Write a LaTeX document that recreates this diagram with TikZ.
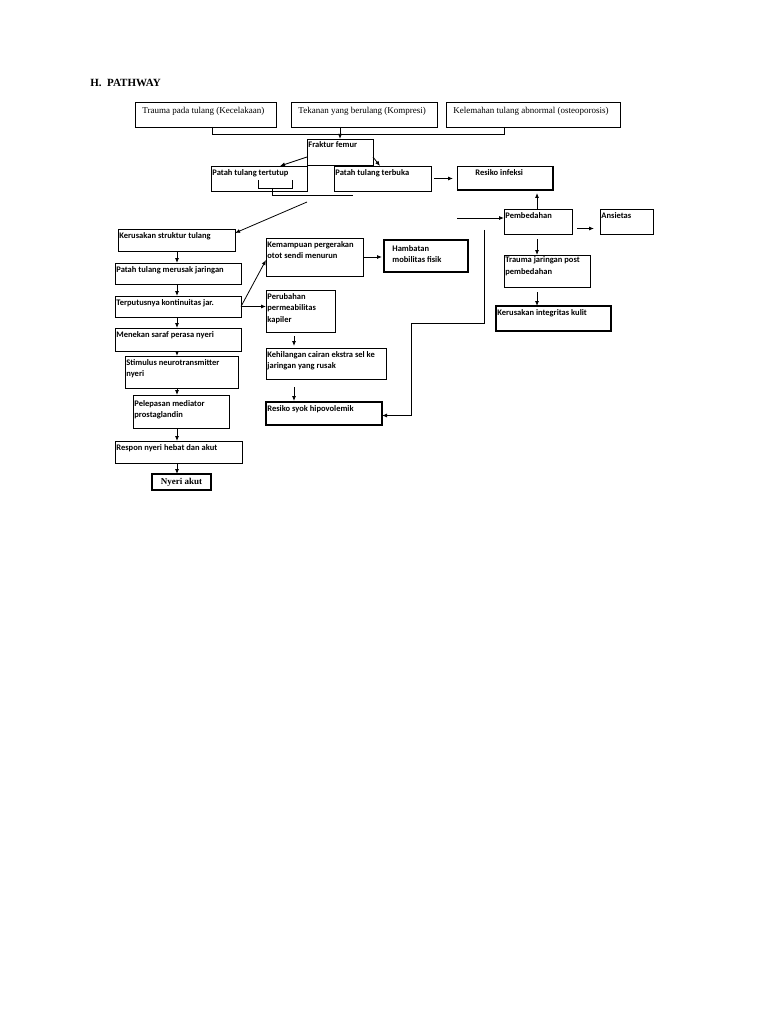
\documentclass[tikz,border=0pt]{standalone}
\usepackage{fontspec}
\setmainfont{Liberation Serif}
\newfontfamily\calibri{Carlito}
\usetikzlibrary{arrows.meta,calc}

\begin{document}
\begin{tikzpicture}[>={Latex[length=5pt,width=4pt]}, x=1pt, y=-1pt, line width=0.8pt,
  box/.style={draw, anchor=north west, inner sep=0pt, outer sep=0pt},
  boldbox/.style={box, line width=1.5pt},
  cause/.style={anchor=north west, inner xsep=7pt, inner ysep=5pt, font=\fontsize{9}{11}\selectfont},
  note/.style={anchor=north west, align=left, inner xsep=1pt, inner ysep=3pt,
    font=\calibri\bfseries\fontsize{8.5}{11.5}\selectfont}]
  \path[fill=white] (0,0) rectangle (768,1024);

  % title
  \node[anchor=west, inner sep=0pt, font=\bfseries\fontsize{11}{13}\selectfont] (title) at (90,83) {H.\ \ PATHWAY};

  % causes
  \node[box, minimum width=141pt, minimum height=25pt, label={[cause]north west:Trauma pada tulang (Kecelakaan)}] (trauma) at (135,102) {};
  \node[box, minimum width=146pt, minimum height=25pt, label={[cause]north west:Tekanan yang berulang (Kompresi)}] (tekanan) at (291,102) {};
  \node[box, minimum width=174pt, minimum height=25pt, label={[cause]north west:Kelemahan tulang abnormal (osteoporosis)}] (kelemahan) at (446,102) {};

  % fracture
  \node[box, minimum width=66pt, minimum height=26pt, label={[note, inner ysep=2pt]north west:Fraktur femur}] (fraktur) at (307,139) {};
  \node[box, minimum width=96pt, minimum height=25pt, label={[note]north west:Patah tulang tertutup}] (tertutup) at (211,166) {};
  \node[box, minimum width=97pt, minimum height=25pt, label={[note]north west:Patah tulang terbuka}] (terbuka) at (334,166) {};
  \node[box, minimum width=96pt, minimum height=24pt, label={[note, inner xsep=18pt]north west:Resiko infeksi}] (infeksi) at (457,166) {};
  \draw[line width=1.5pt] (infeksi.north east) -- (infeksi.south east) -- (infeksi.south west);

  % right column
  \node[box, minimum width=68pt, minimum height=25pt, label={[note]north west:Pembedahan}] (pembedahan) at (504,209) {};
  \node[box, minimum width=53pt, minimum height=25pt, label={[note]north west:Ansietas}] (ansietas) at (600,209) {};
  \node[box, minimum width=86pt, minimum height=32pt, label={[note, inner ysep=1.5pt]north west:Trauma jaringan post\\pembedahan}] (traumapost) at (504,255) {};
  \node[boldbox, minimum width=115pt, minimum height=25pt, label={[note]north west:Kerusakan integritas kulit}] (integritas) at (496,306) {};

  % left column
  \node[box, minimum width=117pt, minimum height=22pt, label={[note]north west:Kerusakan struktur tulang}] (struktur) at (118,229) {};
  \node[box, minimum width=126pt, minimum height=21pt, label={[note]north west:Patah tulang merusak jaringan}] (merusak) at (115,263) {};
  \node[box, minimum width=126pt, minimum height=21pt, label={[note]north west:Terputusnya kontinuitas jar.}] (terputus) at (115,296) {};
  \node[box, minimum width=126pt, minimum height=23pt, label={[note]north west:Menekan saraf perasa nyeri}] (menekan) at (115,328) {};
  \node[box, minimum width=113pt, minimum height=32pt, label={[note]north west:Stimulus neurotransmitter\\nyeri}] (stimulus) at (125,356) {};
  \node[box, minimum width=96pt, minimum height=33pt, label={[note, inner ysep=5pt]north west:Pelepasan mediator\\prostaglandin}] (pelepasan) at (133,395) {};
  \node[box, minimum width=127pt, minimum height=22pt, label={[note]north west:Respon nyeri hebat dan akut}] (respon) at (115,441) {};
  \node[boldbox, minimum width=59pt, minimum height=16pt, font=\bfseries\fontsize{9}{11}\selectfont] (nyeri) at (152,474) {Nyeri akut};

  % middle column
  \node[box, minimum width=97pt, minimum height=38pt, label={[note]north west:Kemampuan pergerakan\\otot sendi menurun}] (kemampuan) at (266,238) {};
  \node[boldbox, minimum width=84pt, minimum height=32pt, label={[note, inner xsep=8pt, inner ysep=5pt]north west:Hambatan\\mobilitas fisik}] (hambatan) at (384,240) {};
  \node[box, minimum width=69pt, minimum height=42pt, label={[note]north west:Perubahan\\permeabilitas\\kapiler}] (perubahan) at (266,290) {};
  \node[box, minimum width=120pt, minimum height=31pt, label={[note]north west:Kehilangan cairan ekstra sel ke\\jaringan yang rusak}] (kehilangan) at (266,348) {};
  \node[boldbox, line width=1.1pt, minimum width=116pt, minimum height=23pt, label={[note]north west:Resiko syok hipovolemik}] (syok) at (266,402) {};

  % causes join
  \coordinate (joinL) at (212,134);
  \coordinate (joinR) at (504,134);
  \draw (trauma.south -| joinL) -- (joinL) -- (joinR) -- (kelemahan.south -| joinR);
  \draw[->] (tekanan.south -| fraktur.north) -- (fraktur.north);

  % fracture types
  \draw[->] ($(fraktur.south west)+(0,-8)$) -- ($(tertutup.north west)+(69,0)$);
  \draw[->] ($(fraktur.south east)+(0,-8)$) -- ($(terbuka.north west)+(46,0)$);
  \draw ($(tertutup.north west)+(47,14)$) -- ++(0,8) -- ++(34,0) -- ++(0,-8);
  \coordinate (split) at (272,188);
  \draw (split) -- ++(0,7) -- ++(81,0);
  \coordinate (toStruktur) at (307,202);
  \draw[->] (toStruktur) -- ($(struktur.north east)+(0,4)$);
  \draw[->, shorten <=3pt, shorten >=4pt] (terbuka.east) -- (terbuka.east -| infeksi.west);

  % surgery
  \coordinate (colR) at (537,0);
  \coordinate (toBedah) at (457,218);
  \draw[->] (toBedah) -- (toBedah -| pembedahan.west);
  \draw[->, shorten >=3pt] (pembedahan.north -| colR) -- (infeksi.south -| colR);
  \draw[->, shorten <=5pt, shorten >=6pt] ($(pembedahan.east)+(0,7)$) -- ($(ansietas.west)+(0,7)$);
  \draw[->, shorten <=5pt] (pembedahan.south -| colR) -- (traumapost.north -| colR);
  \draw[->, shorten <=5pt] (traumapost.south -| colR) -- (integritas.north -| colR);
  \coordinate (toSyok) at (484,230);
  \draw[->] (toSyok) -- (484,323) -- (411,323) |- ($(syok.east)+(0,2)$);

  % pain chain
  \coordinate (colL) at (177,0);
  \foreach \a/\b in {struktur/merusak, merusak/terputus, terputus/menekan, menekan/stimulus,
                     stimulus/pelepasan, pelepasan/respon, respon/nyeri}
    \draw[->] (\a.south -| colL) -- (\b.north -| colL);

  % mobility and fluid
  \draw[->] (terputus.east) -- ($(kemampuan.south west)+(0,-16)$);
  \draw[->] (terputus.east) -- (terputus.east -| perubahan.west);
  \draw[->, shorten >=2pt] (kemampuan.east) -- (kemampuan.east -| hambatan.west);
  \coordinate (colM) at (294,0);
  \draw[->, shorten <=4pt, shorten >=2pt] (perubahan.south -| colM) -- (kehilangan.north -| colM);
  \draw[->, shorten <=8pt, shorten >=1pt] (kehilangan.south -| colM) -- (syok.north -| colM);
\end{tikzpicture}
\end{document}
